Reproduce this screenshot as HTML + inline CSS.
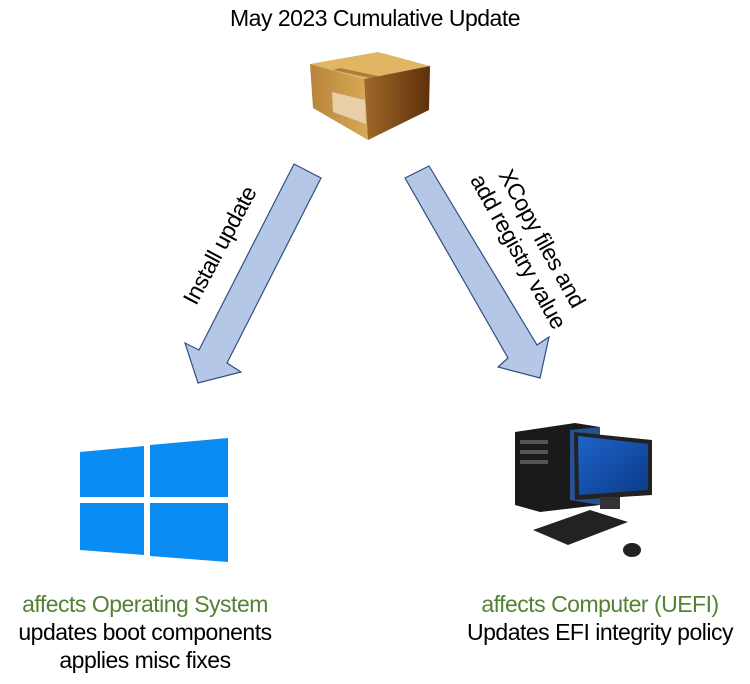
<!DOCTYPE html>
<html><head><meta charset="utf-8"><style>
html,body{margin:0;padding:0;background:#fff;}
body{width:750px;height:684px;position:relative;overflow:hidden;font-family:"Liberation Sans",sans-serif;}
.t{position:absolute;white-space:nowrap;font-size:23px;color:#000;text-align:center;}
.g{color:#548235;}
</style></head><body>
<div class="t" style="left:0;width:750px;top:5px;letter-spacing:-0.5px;">May 2023 Cumulative Update</div>
<svg width="750" height="684" style="position:absolute;left:0;top:0">
<defs>
<linearGradient id="bf" x1="0" x2="1"><stop offset="0" stop-color="#b8843a"/><stop offset="1" stop-color="#d8a957"/></linearGradient>
<linearGradient id="bs" x1="0" x2="1"><stop offset="0" stop-color="#a06a28"/><stop offset="1" stop-color="#5e2f0c"/></linearGradient>
<linearGradient id="scr" x1="0" y1="0" x2="1" y2="1"><stop offset="0" stop-color="#1e63c8"/><stop offset="1" stop-color="#0b3b8a"/></linearGradient>
</defs>
<polygon points="310,64 378,52 430,66 364,79" fill="#e0b564"/>
<polygon points="310,64 364,79 368,140 313,108" fill="url(#bf)"/>
<polygon points="364,79 430,66 429,110 368,140" fill="url(#bs)"/>
<polygon points="333,70 340,68 392,79 384,81" fill="#8a5a20" opacity=".6"/>
<polygon points="332,92 365,100 366,124 333,112" fill="#e8cfa8"/>
<polygon points="294,164 321,178 227,363 241,372 198,383 185,343 199,350" fill="#b4c7e7" stroke="#2f4f7f" stroke-width="1.2"/>
<polygon points="405,178 429,166 537,345 549,337 540,378 498,367 508,358" fill="#b4c7e7" stroke="#2f4f7f" stroke-width="1.2"/>
<polygon points="80,452 144,446 144,497 80,497" fill="#0a8cf2"/>
<polygon points="150,445 228,438 228,497 150,497" fill="#0a8cf2"/>
<polygon points="80,503 144,503 144,555 80,550" fill="#0a8cf2"/>
<polygon points="150,503 228,503 228,562 150,556" fill="#0a8cf2"/>
<polygon points="515,432 575,423 600,427 600,505 540,512 515,505" fill="#1a1a1a"/>
<polygon points="570,430 600,427 600,505 570,500" fill="#2a5fb0" opacity=".8"/>
<rect x="520" y="440" width="28" height="4" fill="#555"/><rect x="520" y="450" width="28" height="4" fill="#555"/><rect x="520" y="460" width="28" height="4" fill="#555"/>
<polygon points="574,432 652,440 652,495 575,500" fill="#222"/>
<polygon points="578,436 648,444 648,490 579,495" fill="url(#scr)"/>
<rect x="600" y="497" width="20" height="12" fill="#333"/>
<polygon points="533,530 590,510 628,522 568,545" fill="#222"/>
<ellipse cx="632" cy="550" rx="9" ry="7" fill="#222"/>
</svg>
<div class="t" style="left:130px;top:232px;width:180px;transform:rotate(-62deg);letter-spacing:-0.5px;">Install update</div>
<div class="t" style="left:420px;top:218px;width:220px;line-height:27px;transform:rotate(61deg);letter-spacing:-0.5px;">XCopy files and<br>add registry value</div>
<div class="t" style="left:-10px;width:310px;top:590px;line-height:28px;letter-spacing:-0.5px;"><span class="g">affects Operating System</span><br>updates boot components<br>applies misc fixes</div>
<div class="t" style="left:450px;width:300px;top:590px;line-height:28px;letter-spacing:-0.5px;"><span class="g">affects Computer (UEFI)</span><br>Updates EFI integrity policy</div>
</body></html>
